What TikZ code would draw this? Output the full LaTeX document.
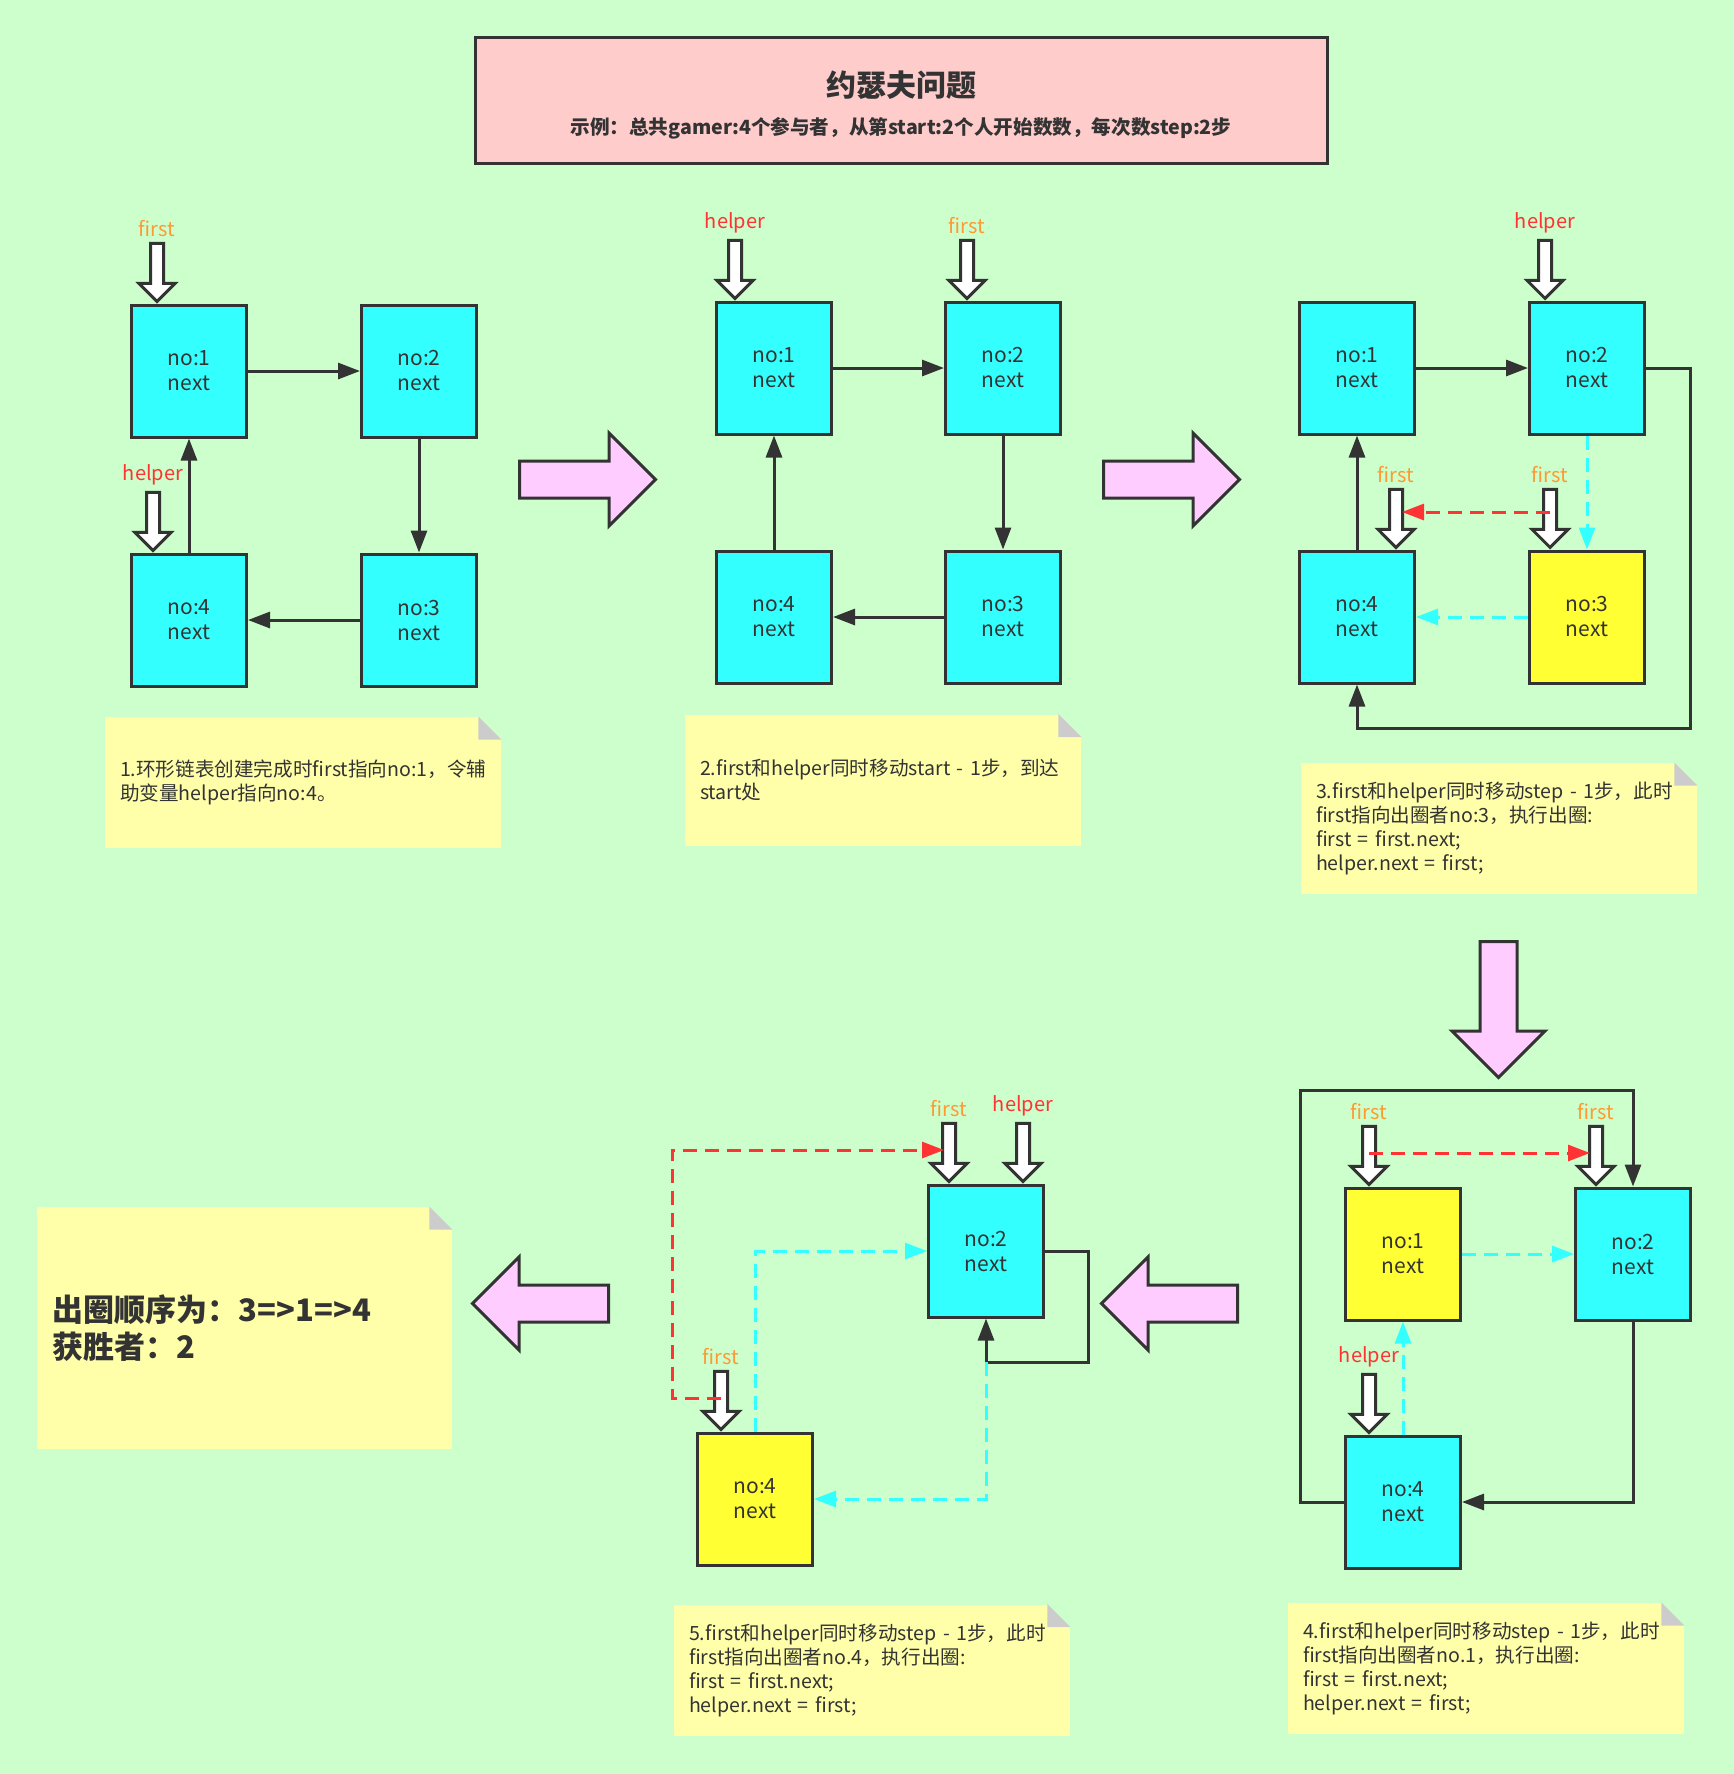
\documentclass[tikz,border=0pt]{standalone}
\usepackage{fontspec}
\setmainfont{Noto Sans CJK SC}
\usepackage{tikz}
\usetikzlibrary{positioning, shapes.arrows, arrows.meta}
\definecolor{bgc}{HTML}{CCFFCC}
\definecolor{linec}{HTML}{333333}
\definecolor{cyanc}{HTML}{33FFFF}
\definecolor{yellowc}{HTML}{FFFF33}
\definecolor{titlec}{HTML}{FFCCCC}
\definecolor{pinkc}{HTML}{FFCCFF}
\definecolor{notec}{HTML}{FFFFAA}
\definecolor{foldc}{HTML}{CCCCCC}
\definecolor{firstc}{HTML}{FF9933}
\definecolor{helperc}{HTML}{FF3333}
\tikzstyle{link} = [
%solid pointer between nodes:
line width=1.5pt, draw=linec, -{Triangle[length=11pt, width=8pt]}
]
\tikzstyle{cyanlink} = [link, draw=cyanc, dash pattern=on 7pt off 4pt]
\tikzstyle{redlink} = [cyanlink, draw=helperc]

\begin{document}
\begin{tikzpicture}[x=0.5pt, y=-0.5pt,
			item/.style = {rectangle, draw=linec, line width=1.5pt, fill=cyanc, text=linec, minimum width=57.5pt, minimum height=66pt, align=center, font=\fontsize{10.5}{12.5}\selectfont},
			gone/.style = {item, fill=yellowc},
			ptr/.style = {single arrow, draw=linec, line width=1.5pt, fill=white, rotate=-90, anchor=tip, minimum height=29pt, inner sep=0pt, inner ysep=2.5pt, single arrow head extend=5.75pt},
			firstlbl/.style = {text=firstc, inner sep=1pt, font=\fontsize{10}{12}\selectfont},
			helperlbl/.style = {firstlbl, text=helperc},
			note/.style = {rectangle, fill=notec, text=linec, minimum width=198pt, minimum height=65.5pt, text width=183pt, inner xsep=7.5pt, align=left, font=\fontsize{9.8}{12}\selectfont},
			bigarrow/.style = {single arrow, draw=linec, line width=1.5pt, fill=pinkc, anchor=tail, minimum height=68pt, inner sep=0pt, inner ysep=8.5pt, single arrow head extend=14pt},
			titlebox/.style = {rectangle, draw=linec, line width=1.5pt, fill=titlec, minimum width=426pt, minimum height=63pt},
		]
		\fill[bgc] (0,0) rectangle (1734,1774);
		\useasboundingbox (0,0) rectangle (1734,1774);

		\node[titlebox](ttl) at (901,100){};
		\node[text=linec, font=\bfseries\fontsize{15}{18}\selectfont](ttlmain) at (901,85){约瑟夫问题};
		\node[text=linec, font=\bfseries\fontsize{9.8}{12}\selectfont](ttlsub) at (901,128){示例：总共gamer:4个参与者，从第start:2个人开始数数，每次数step:2步};

		% 1
		\node[item](a1) at (189,371){no:1\\next};
		\node[item](a2) at (419,371){no:2\\next};
		\node[item](a3) at (419,620){no:3\\next};
		\node[item](a4) at (189,620){no:4\\next};
		\draw[link](a1)--(a2);
		\draw[link](a2)--(a3);
		\draw[link](a3)--(a4);
		\draw[link](a4)--(a1);
		\node[ptr](a1p) at ([xshift=-16pt]a1.north){};
		\node[firstlbl, above=1.5pt of a1p.tail](a1l){first};
		\node[ptr](a4p) at ([xshift=-18pt]a4.north){};
		\node[helperlbl, above=1.5pt of a4p.tail](a4l){helper};

		% 2
		\node[item](c1) at (774,368){no:1\\next};
		\node[item](c2) at (1003,368){no:2\\next};
		\node[item](c3) at (1003,617){no:3\\next};
		\node[item](c4) at (774,617){no:4\\next};
		\draw[link](c1)--(c2);
		\draw[link](c2)--(c3);
		\draw[link](c3)--(c4);
		\draw[link](c4)--(c1);
		\node[ptr](c1p) at ([xshift=-19.5pt]c1.north){};
		\node[helperlbl, above=1.5pt of c1p.tail](c1l){helper};
		\node[ptr](c2p) at ([xshift=-18pt]c2.north){};
		\node[firstlbl, above=1.5pt of c2p.tail](c2l){first};

		% 3
		\node[item](d1) at (1357,368){no:1\\next};
		\node[item](d2) at (1587,368){no:2\\next};
		\node[gone](d3) at (1587,617){no:3\\next};
		\node[item](d4) at (1357,617){no:4\\next};
		\coordinate(d2k) at (1690,728);
		\draw[link](d1)--(d2);
		\draw[link](d4)--(d1);
		\draw[link](d2.east)-|(d2k)-|(d4.south);
		\draw[cyanlink](d2)--(d3);
		\draw[cyanlink](d3)--(d4);
		\node[ptr](d2p) at ([xshift=-21pt]d2.north){};
		\node[helperlbl, above=1.5pt of d2p.tail](d2l){helper};
		\node[ptr](d4p) at ([xshift=19.5pt]d4.north){};
		\node[firstlbl, above=1.5pt of d4p.tail](d4l){first};
		\node[ptr](d3p) at ([xshift=-18.5pt]d3.north){};
		\node[firstlbl, above=1.5pt of d3p.tail](d3l){first};
		\coordinate(d3r) at (1550,512);
		\coordinate(d4r) at (1402,512);
		\draw[redlink](d3r)--(d4r);

		% 4
		\node[gone](e1) at (1403,1254){no:1\\next};
		\node[item](e2) at (1633,1254){no:2\\next};
		\node[item](e4) at (1403,1502){no:4\\next};
		\coordinate(e4k) at (1300,1090);
		\draw[link](e4.west)-|(e4k)-|(e2.north);
		\draw[link](e2.south)|-(e4.east);
		\draw[cyanlink](e1)--(e2);
		\draw[cyanlink](e4)--(e1);
		\node[ptr](e1p) at ([xshift=-17pt]e1.north){};
		\node[firstlbl, above=1.5pt of e1p.tail](e1l){first};
		\node[ptr](e2p) at ([xshift=-18.5pt]e2.north){};
		\node[firstlbl, above=1.5pt of e2p.tail](e2l){first};
		\node[ptr](e4p) at ([xshift=-17pt]e4.north){};
		\node[helperlbl, above=1.5pt of e4p.tail](e4l){helper};
		\coordinate(e1r) at (1369,1153);
		\coordinate(e2r) at (1590,1153);
		\draw[redlink](e1r)--(e2r);

		% 5
		\node[item](f2) at (986,1251){no:2\\next};
		\node[gone](f4) at (755,1499){no:4\\next};
		\coordinate(f2k) at (1088,1362);
		\coordinate(f2c) at (986,1362);
		\draw[link](f2.east)-|(f2k)-|(f2.south);
		\draw[cyanlink](f2c)|-(f4.east);
		\draw[cyanlink](f4.north)|-(f2.west);
		\node[ptr](f2p) at ([xshift=-18.5pt]f2.north){};
		\node[firstlbl, above=1.5pt of f2p.tail](f2l){first};
		\node[ptr](f2h) at ([xshift=18.5pt]f2.north){};
		\node[helperlbl, above=1.5pt of f2h.tail](f2hl){helper};
		\node[ptr](f4p) at ([xshift=-17pt]f4.north){};
		\node[firstlbl, above=1.5pt of f4p.tail](f4l){first};
		\coordinate(f4r) at (721,1398);
		\coordinate(f4k) at (672,1398);
		\coordinate(f2r) at (944,1150);
		\draw[redlink](f4r)--(f4k)|-(f2r);

		% notes
		\node[note](n1) at (303,782.5){1.环形链表创建完成时first指向no:1，令辅\\助变量helper指向no:4。};
		\node[note](n2) at (883,780){2.first和helper同时移动start - 1步，到达\\start处};
		\node[note](n3) at (1499,828.5){3.first和helper同时移动step - 1步，此时\\first指向出圈者no:3，执行出圈:\\first = first.next;\\helper.next = first;};
		\node[note](n4) at (1486,1668.5){4.first和helper同时移动step - 1步，此时\\first指向出圈者no.1，执行出圈:\\first = first.next;\\helper.next = first;};
		\node[note](n5) at (872,1670){5.first和helper同时移动step - 1步，此时\\first指向出圈者no.4，执行出圈:\\first = first.next;\\helper.next = first;};
		\node[note, minimum width=207.5pt, minimum height=121pt, text width=191.5pt, inner xsep=8pt, font=\bfseries\fontsize{15.5}{18.5}\selectfont](nr) at (244.5,1328){出圈顺序为：3=>1=>4\\获胜者：2};
		\foreach \n in {n1,n2,n3,n4,n5,nr}{
			\fill[bgc](\n.north east)--([xshift=-11.5pt]\n.north east)--([yshift=-11.5pt]\n.north east)--cycle;
			\fill[foldc]([xshift=-11.5pt]\n.north east)--([xshift=-11.5pt, yshift=-11.5pt]\n.north east)--([yshift=-11.5pt]\n.north east)--cycle;
		}

		% steps
		\node[bigarrow](go1) at (518,479.5){};
		\node[bigarrow](go2) at (1102,479.5){};
		\node[bigarrow, rotate=-90](go3) at (1498.5,940){};
		\node[bigarrow, rotate=180](go4) at (1239,1303.5){};
		\node[bigarrow, rotate=180](go5) at (610,1303.5){};

	\end{tikzpicture}
\end{document}
